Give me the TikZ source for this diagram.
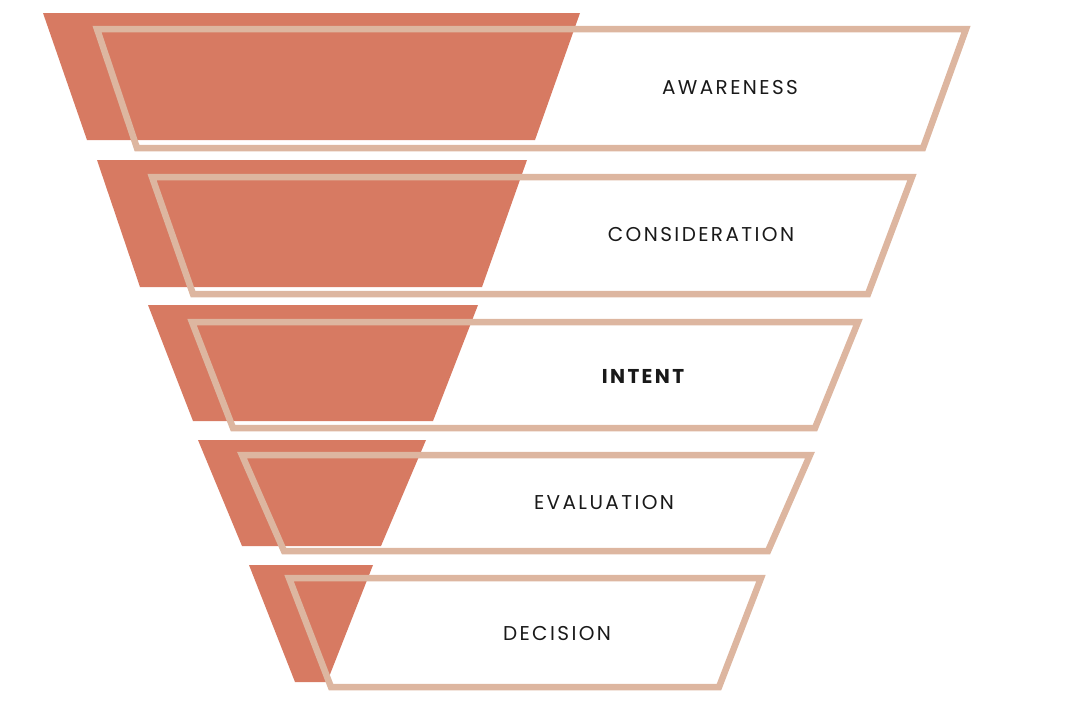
\documentclass[tikz,border=0pt]{standalone}
\usepackage{fontspec}
\setmainfont[LetterSpace=12]{Poppins}
\usepackage{xcolor}
\definecolor{funnelfill}{HTML}{D77A62}
\definecolor{funnelline}{HTML}{DDB6A0}
\tikzset{
  stage/.style={fill=funnelfill},
  frame/.style={draw=funnelline, line width=6.5pt, line join=miter},
  label/.style={font=\fontsize{20}{24}\selectfont, text=black!90}
}
\begin{document}
\begin{tikzpicture}[x=1pt,y=-1pt]
    % page
    \useasboundingbox (0,0) rectangle (1067,705);

    % filled funnel stages: top y, top left, top right, bottom y, bottom left, bottom right
    \foreach \ta/\tl/\tr/\ba/\bl/\br in {13/43/580/140/87/535, 160/97/527/287/140/482,
        305/148/478/421/193/433, 440/198/426/546/242/381, 565/249/373/682/295/327}
      \fill[stage] (\tl,\ta) -- (\tr,\ta) -- (\br,\ba) -- (\bl,\ba) -- cycle;

    % outlined frames
    \foreach \ta/\tl/\tr/\ba/\bl/\br in {29/97/966/148/137/923, 177/152/912/294/193/868,
        322/192/858/428/233/815, 455/242/810/551/284/768, 578/289/761/687/331/719}
      \draw[frame] (\tl,\ta) -- (\tr,\ta) -- (\br,\ba) -- (\bl,\ba) -- cycle;

    % stage labels
    \node[label] (aware) at (730,88) {AWARENESS};
    \node[label] (consid) at (701,235) {CONSIDERATION};
    \node[label, font=\fontsize{20}{24}\selectfont\bfseries] (intent) at (643,376) {INTENT};
    \node[label] (evalu) at (604,503) {EVALUATION};
    \node[label] (decis) at (557,633) {DECISION};
\end{tikzpicture}
\end{document}
